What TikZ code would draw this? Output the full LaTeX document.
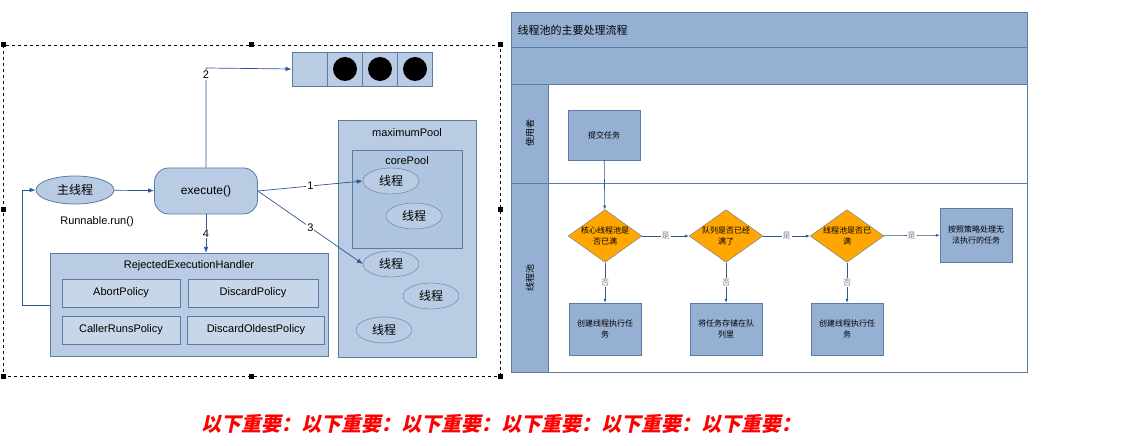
\documentclass[tikz,border=0pt]{standalone}
\usepackage{fontspec}
\setmainfont{Liberation Sans}
\newfontfamily\cjk{Noto Sans CJK SC}
\usetikzlibrary{shapes.geometric,arrows.meta}
\definecolor{bl}{HTML}{B9CCE4}
\definecolor{bd}{HTML}{5A7BA6}
\definecolor{rb}{HTML}{95B0D3}
\definecolor{ln}{HTML}{2F5597}
\begin{document}
\begin{tikzpicture}[x=1pt,y=-1pt,
 box/.style={draw=bd,fill=bl,line width=0.8pt},
 pol/.style={draw=bd,fill=bl!80!white,line width=0.8pt,font=\fontsize{11}{12}\selectfont,inner sep=0},
 thr/.style={ellipse,draw=bd,fill=bl,minimum width=56pt,minimum height=26pt,font=\cjk\fontsize{12}{13}\selectfont,inner sep=0},
 arr/.style={-{Latex[length=6pt]},draw=ln,line width=0.7pt},
 lab/.style={fill=white,inner sep=1pt,font=\fontsize{11}{12}\selectfont},
 rbox/.style={draw=bd,fill=rb,minimum width=72pt,minimum height=52pt,align=center,font=\cjk\fontsize{8}{11}\selectfont,inner sep=2pt},
 dia/.style={diamond,aspect=1.4,draw=bd,fill=orange!70!yellow,minimum width=72pt,minimum height=50pt,align=center,font=\cjk\fontsize{8}{11}\selectfont,inner sep=0},
 rarr/.style={-{Latex[length=4pt]},draw=ln,line width=0.6pt},
 yl/.style={fill=white,inner sep=1pt,font=\cjk\fontsize{8}{9}\selectfont,text=gray},
 hdl/.style={fill=black,minimum size=5pt,inner sep=0}]
\useasboundingbox (0,0) rectangle (1127,446);
% left frame
\draw[dashed,line width=0.6pt] (3,45) rectangle (500,376);
\foreach \p in {(3,45),(251,45),(500,45),(3,210),(500,210),(3,376),(251,376),(500,376)} \node[hdl] at \p {};
% queue
\node[box,minimum width=36pt,minimum height=34pt,inner sep=0] (q0) at (310,69) {};
\foreach \i/\x in {1/345,2/380,3/415}{
 \node[box,minimum width=35pt,minimum height=34pt,inner sep=0] (q\i) at (\x,69) {};
 \fill (\x,69) circle (12pt);}
% main thread
\node[ellipse,draw=bd,fill=bl,line width=0.8pt,minimum width=78pt,minimum height=28pt,font=\cjk\fontsize{12}{13}\selectfont] (main) at (75,190) {主线程};
\node[font=\fontsize{11}{12}\selectfont] (rr) at (97,222) {Runnable.run()};
\node[box,rounded corners=14pt,minimum width=103pt,minimum height=46pt,font=\fontsize{12}{13}\selectfont] (exe) at (206,191) {execute()};
% maximum pool
\draw[box] (338,120) rectangle (476,357);
\node[font=\fontsize{11}{12}\selectfont] (mp) at (407,133) {maximumPool};
\draw[box,fill=bl!90!bd] (352,150) rectangle (462,248);
\node[font=\fontsize{11}{12}\selectfont] (cp) at (407,161) {corePool};
\node[thr] (t1) at (391,181) {线程};
\node[thr] (t2) at (414,216) {线程};
\node[thr] (t3) at (391,264) {线程};
\node[thr] (t4) at (431,296) {线程};
\node[thr] (t5) at (384,330) {线程};
% rejected
\draw[box] (50,253) rectangle (328,356);
\node[font=\fontsize{11}{12}\selectfont] (rj) at (189,266) {RejectedExecutionHandler};
\coordinate (rjt) at (206,253);
\coordinate (rjl) at (50,305);
\node[pol,minimum width=118pt,minimum height=28pt] (a) at (121,293) {AbortPolicy};
\node[pol,minimum width=130pt,minimum height=28pt] (d) at (253,293) {DiscardPolicy};
\node[pol,minimum width=118pt,minimum height=28pt] (c) at (121,330) {CallerRunsPolicy};
\node[pol,minimum width=137pt,minimum height=28pt] (o) at (256,330) {DiscardOldestPolicy};
% arrows
\draw[arr] (main) -- (exe);
\draw[arr] (exe.north) -- (206,68) -- (q0.west);
\node[lab] at (206,75) {2};
\draw[arr] (exe.east) -- node[lab,pos=0.5] {1} (t1.west);
\draw[arr] (exe.east) -- node[lab,pos=0.5] {3} (t3.west);
\draw[arr] (exe.south) -- node[lab] {4} (rjt);
\draw[arr] (rjl) -- (22,305) -- (22,190) -- (main.west);
% right panel
\draw[draw=bd,line width=0.8pt,fill=rb] (511,12) rectangle (1027,84);
\draw[draw=bd,line width=0.8pt] (511,47) -- (1027,47);
\node[anchor=west,font=\cjk\fontsize{11}{12}\selectfont] (ttl) at (514,30) {线程池的主要处理流程};
\draw[draw=bd,line width=0.8pt,fill=white] (511,84) rectangle (1027,372);
\draw[draw=bd,fill=rb] (511,84) rectangle (548,372);
\draw[draw=bd,line width=0.8pt] (511,183) -- (1027,183);
\node[rotate=90,font=\cjk\fontsize{9}{10}\selectfont] (u1) at (530,133) {使用者};
\node[rotate=90,font=\cjk\fontsize{9}{10}\selectfont] (u2) at (530,278) {线程池};
\node[rbox,minimum height=50pt] (s) at (604,135) {提交任务};
\node[dia] (d1) at (605,236) {核心线程池是\\否已满};
\node[dia] (d2) at (726,236) {队列是否已经\\满了};
\node[dia] (d3) at (847,236) {线程池是否已\\满};
\node[rbox,minimum height=54pt] (e) at (976,235) {按照策略处理无\\法执行的任务};
\node[rbox] (b1) at (605,329) {创建线程执行任\\务};
\node[rbox] (b2) at (726,329) {将任务存储在队\\列里};
\node[rbox] (b3) at (847,329) {创建线程执行任\\务};
\draw[rarr] (s) -- (d1);
\draw[rarr] (d1) -- node[yl] {是} (d2);
\draw[rarr] (d2) -- node[yl] {是} (d3);
\draw[rarr] (d3) -- node[yl] {是} (e);
\draw[rarr] (d1) -- node[yl] {否} (b1);
\draw[rarr] (d2) -- node[yl] {否} (b2);
\draw[rarr] (d3) -- node[yl] {否} (b3);
\node[text=red,font=\cjk\bfseries\fontsize{20}{22}\selectfont,xslant=0.2] (imp) at (503,424) {以下重要：以下重要：以下重要：以下重要：以下重要：以下重要：};
\end{tikzpicture}
\end{document}
